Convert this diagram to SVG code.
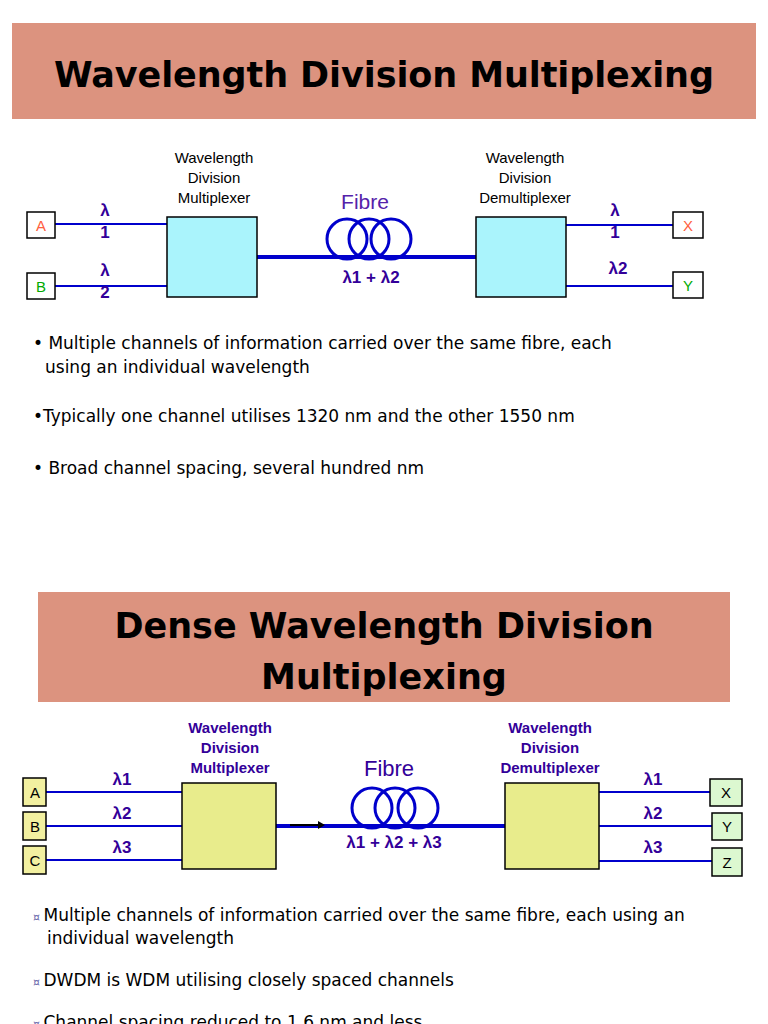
<svg xmlns="http://www.w3.org/2000/svg" width="768" height="1024" viewBox="0 0 768 1024">
<style>
.ban{fill:#dc937f}
.title{font-family:"DejaVu Sans",sans-serif;font-weight:bold;font-size:35px;fill:#000;text-anchor:middle}
.lbl{font-family:"Liberation Sans",sans-serif;font-size:15px;text-anchor:middle}
.sm{font-family:"Liberation Sans",sans-serif;font-size:17px;fill:#330099;font-weight:bold;text-anchor:middle}
.hd{font-family:"Liberation Sans",sans-serif;font-size:15px;fill:#330099;font-weight:bold;text-anchor:middle}
.body{font-family:"DejaVu Sans",sans-serif;font-size:17px;fill:#000}
.ln{stroke:#0000cc;stroke-width:2;fill:none}
.fib{stroke:#0000cc;stroke-width:4;fill:none}
.coil{stroke:#0000cc;stroke-width:3;fill:none}
.box{stroke:#000;stroke-width:1.5}
</style>
<rect width="768" height="1024" fill="#fff"/>
<rect class="ban" x="12" y="23" width="744" height="96"/>
<text class="title" x="384" y="87" textLength="660">Wavelength Division Multiplexing</text>

<g id="connectors1">
<line class="ln" x1="55" y1="224" x2="167" y2="224"/>
<line class="ln" x1="55" y1="286" x2="167" y2="286"/>
<line class="fib" x1="257" y1="257" x2="476" y2="257"/>
<line class="ln" x1="566" y1="225" x2="673" y2="225"/>
<line class="ln" x1="566" y1="286" x2="673" y2="286"/>
<circle class="coil" cx="347" cy="239" r="20"/>
<circle class="coil" cx="369" cy="239" r="20"/>
<circle class="coil" cx="391" cy="239" r="20"/>
</g>
<g id="A1"><rect class="box" x="27" y="212" width="28" height="26" fill="#fff"/><text class="lbl" x="41" y="231" fill="#ff6040">A</text></g>
<g id="B1"><rect class="box" x="27" y="273" width="28" height="26" fill="#fff"/><text class="lbl" x="41" y="292" fill="#00aa00">B</text></g>
<g id="X1"><rect class="box" x="673" y="212" width="30" height="26" fill="#fff"/><text class="lbl" x="688" y="231" fill="#ff6040">X</text></g>
<g id="Y1"><rect class="box" x="673" y="272" width="30" height="26" fill="#fff"/><text class="lbl" x="688" y="291" fill="#00aa00">Y</text></g>
<g id="mux1"><rect class="box" x="167" y="217" width="90" height="80" fill="#aaf4fc"/>
<text class="lbl" x="214" y="163" fill="#000">Wavelength</text><text class="lbl" x="214" y="183" fill="#000">Division</text><text class="lbl" x="214" y="203" fill="#000">Multiplexer</text></g>
<g id="demux1"><rect class="box" x="476" y="217" width="90" height="80" fill="#aaf4fc"/>
<text class="lbl" x="525" y="163" fill="#000">Wavelength</text><text class="lbl" x="525" y="183" fill="#000">Division</text><text class="lbl" x="525" y="203" fill="#000">Demultiplexer</text></g>
<text class="sm" x="105" y="216">λ</text><text class="sm" x="105" y="238">1</text>
<text class="sm" x="105" y="276">λ</text><text class="sm" x="105" y="298">2</text>
<text class="sm" x="615" y="216">λ</text><text class="sm" x="615" y="238">1</text>
<text class="sm" x="618" y="274">λ2</text>
<text x="365" y="209" font-family="Liberation Sans,sans-serif" font-size="21" fill="#5522aa" text-anchor="middle">Fibre</text>
<text class="sm" x="371" y="283">λ1 +  λ2</text>

<text class="body" x="33" y="349">• Multiple channels of information carried over the same fibre, each</text>
<text class="body" x="45" y="373">using an individual wavelength</text>
<text class="body" x="33" y="422">•Typically one channel utilises 1320 nm and the other 1550 nm</text>
<text class="body" x="33" y="474">• Broad channel spacing, several hundred nm</text>

<rect class="ban" x="38" y="592" width="692" height="110"/>
<text class="title" x="384" y="638">Dense Wavelength Division</text>
<text class="title" x="384" y="689">Multiplexing</text>

<g id="connectors2">
<line class="ln" x1="46" y1="792" x2="182" y2="792"/>
<line class="ln" x1="46" y1="826" x2="182" y2="826"/>
<line class="ln" x1="46" y1="860" x2="182" y2="860"/>
<line class="fib" x1="276" y1="826" x2="505" y2="826"/>
<line x1="290" y1="825" x2="318" y2="825" stroke="#000" stroke-width="2"/>
<path d="M318 821 L325 825 L318 829Z" fill="#000"/>
<line class="ln" x1="599" y1="792" x2="710" y2="792"/>
<line class="ln" x1="599" y1="826" x2="712" y2="826"/>
<line class="ln" x1="599" y1="861" x2="712" y2="861"/>
<circle class="coil" cx="372" cy="808" r="20"/>
<circle class="coil" cx="395" cy="808" r="20"/>
<circle class="coil" cx="418" cy="808" r="20"/>
</g>
<g id="A2"><rect class="box" x="23" y="778" width="23" height="28" fill="#f2f0a0"/><text class="lbl" x="35" y="798" fill="#000">A</text></g>
<g id="B2"><rect class="box" x="23" y="812" width="23" height="28" fill="#f2f0a0"/><text class="lbl" x="35" y="832" fill="#000">B</text></g>
<g id="C2"><rect class="box" x="23" y="846" width="23" height="28" fill="#f2f0a0"/><text class="lbl" x="35" y="866" fill="#000">C</text></g>
<g id="X2"><rect class="box" x="710" y="779" width="32" height="27" fill="#dcf8d0"/><text class="lbl" x="726" y="798" fill="#000">X</text></g>
<g id="Y2"><rect class="box" x="712" y="813" width="30" height="27" fill="#dcf8d0"/><text class="lbl" x="727" y="832" fill="#000">Y</text></g>
<g id="Z2"><rect class="box" x="712" y="848" width="30" height="28" fill="#dcf8d0"/><text class="lbl" x="727" y="868" fill="#000">Z</text></g>
<g id="mux2"><rect class="box" x="182" y="783" width="94" height="86" fill="#e8ec8c"/>
<text class="hd" x="230" y="733">Wavelength</text><text class="hd" x="230" y="753">Division</text><text class="hd" x="230" y="773">Multiplexer</text></g>
<g id="demux2"><rect class="box" x="505" y="783" width="94" height="86" fill="#e8ec8c"/>
<text class="hd" x="550" y="733">Wavelength</text><text class="hd" x="550" y="753">Division</text><text class="hd" x="550" y="773">Demultiplexer</text></g>
<text class="sm" x="122" y="785">λ1</text><text class="sm" x="122" y="819">λ2</text><text class="sm" x="122" y="853">λ3</text>
<text class="sm" x="653" y="785">λ1</text><text class="sm" x="653" y="819">λ2</text><text class="sm" x="653" y="853">λ3</text>
<text x="389" y="776" font-family="Liberation Sans,sans-serif" font-size="22" fill="#330099" text-anchor="middle">Fibre</text>
<text class="sm" x="394" y="848">λ1 +  λ2 + λ3</text>

<g class="body">
<text x="33" y="921"><tspan font-size="11" fill="#6666aa">¤ </tspan>Multiple channels of information carried over the same fibre, each using an</text>
<text x="47" y="944">individual wavelength</text>
<text x="33" y="986"><tspan font-size="11" fill="#6666aa">¤ </tspan>DWDM is WDM utilising closely spaced channels</text>
<text x="33" y="1028"><tspan font-size="11" fill="#6666aa">¤ </tspan>Channel spacing reduced to 1.6 nm and less</text>
</g>
</svg>
